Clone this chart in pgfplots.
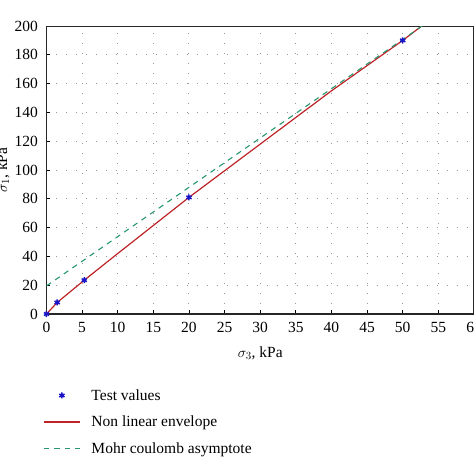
\documentclass[border=0pt]{standalone}
\usepackage{fontspec}
\setmainfont{Liberation Serif}
\usepackage{pgfplots}
\pgfplotsset{compat=1.18}
\definecolor{envred}{RGB}{190,35,40}
\definecolor{mcgreen}{RGB}{40,150,110}
\definecolor{testblue}{RGB}{25,20,200}
\begin{document}
\begin{tikzpicture}
    \begin{axis}[scale only axis,
                width=427.5pt,
                height=288pt,
                xmin=0, xmax=60,
                ymin=0, ymax=200,
                xtick={0,5,...,60},
                ytick={0,20,...,200},
                tick align=inside,
                xtick pos=bottom,
                ytick pos=left,
                major tick length=4pt,
                tick style={black, line width=0.8pt},
                axis line style={line width=1.2pt, black!85},
                axis x line*=bottom,
                grid=major,
                major grid style={gray!80, line width=1pt, dash pattern=on 1pt off 9pt},
                /pgf/number format/assume math mode=true,
                ticklabel style={font=\fontsize{15.5}{17}\selectfont},
                xticklabel style={yshift=-5pt},
                yticklabel style={xshift=-5pt},
                xlabel={$\sigma_3$, kPa},
                ylabel={$\sigma_1$, kPa},
                label style={font=\fontsize{15.5}{17}\selectfont},
                xlabel style={at={(axis description cs:0.5,-0.135)}, anchor=center},
                ylabel style={at={(axis description cs:-0.102,0.5)}, anchor=center},
                legend cell align=left,
                legend style={draw=none, fill=none,
                    at={(axis description cs:-0.015,-0.247)}, anchor=north west,
                    font=\fontsize{15.5}{17}\selectfont,
                    row sep=10.3pt, column sep=9pt},
                legend image code/.code={\draw[mark repeat=2,mark phase=2]
                    plot coordinates {(0pt,0pt)(18pt,0pt)(36pt,0pt)};}]
        % top border (right side is cut off in the reference)
        \draw[line width=1.2pt, black!85] (rel axis cs:0,1) -- (rel axis cs:1,1);
        \addplot[only marks, mark=asterisk, mark size=3pt, testblue, line width=1.5pt] coordinates{
        (0,0)
        (1.5,8)
        (5.3,23.5)
        (20,81)
        (50,190)
        };
        \addplot[envred, line width=1.2pt] coordinates{
        (0,0)
        (1.5,8)
        (5.3,23.5)
        (10,42)
        (20,81)
        (30,118)
        (40,155)
        (50,190)
        (52.8,200.5)
        };
        \addplot[mcgreen, line width=1.1pt, dash pattern=on 5.5pt off 5pt] coordinates{
        (0,19.5)
        (53,201)
        };
        \legend{Test values, Non linear envelope, Mohr coulomb asymptote}
    \end{axis}
    \pgfresetboundingbox
    \path[use as bounding box] (-46.5pt,-160pt) rectangle (427.5pt,314pt);
\end{tikzpicture}
\end{document}
